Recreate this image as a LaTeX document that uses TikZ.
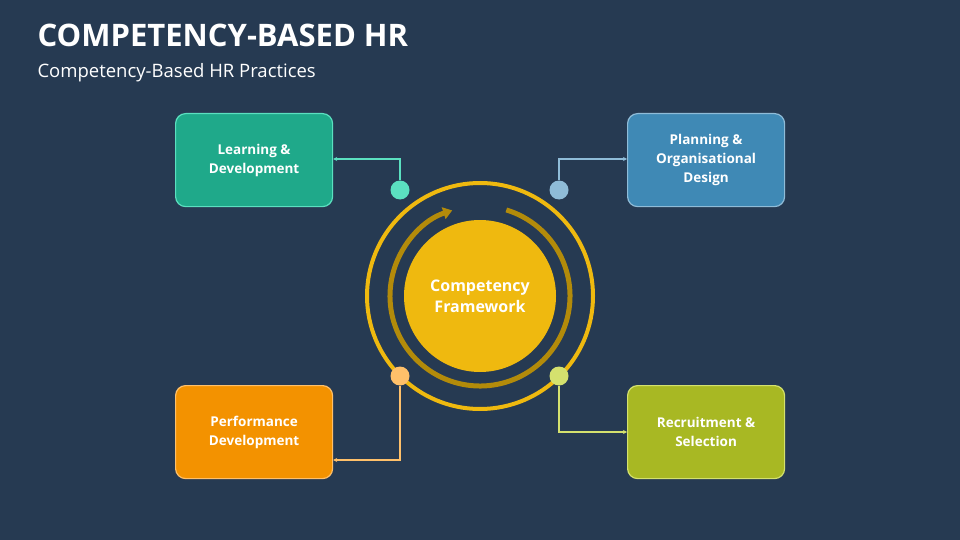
\documentclass[tikz,border=0pt]{standalone}
\usepackage{fontspec}
\setmainfont{Open Sans}
\usetikzlibrary{arrows.meta}
\definecolor{bg}{HTML}{263A52}
\definecolor{gold}{HTML}{EFB90F}
\definecolor{dgold}{HTML}{B38B0A}
\definecolor{tealf}{HTML}{1FA98A}\definecolor{teall}{HTML}{5BE0C0}
\definecolor{bluef}{HTML}{3F89B5}\definecolor{bluel}{HTML}{8FBCD8}
\definecolor{orf}{HTML}{F39200}\definecolor{orl}{HTML}{FFC06A}
\definecolor{grf}{HTML}{A8B823}\definecolor{grl}{HTML}{D4E16E}
\tikzset{x=1pt,y=-1pt,
 box/.style={rounded corners=10pt,minimum width=157pt,minimum height=93pt,line width=1.2pt,text=white,font=\fontsize{13.5}{19}\selectfont\bfseries,align=center,anchor=north west},
 dot/.style={circle,minimum size=19pt,inner sep=0pt},
 conn/.style={line width=1.2pt,-{Stealth[length=4pt,width=4pt]}}}
\begin{document}
\begin{tikzpicture}
\fill[bg] (0,0) rectangle (960,540);
\useasboundingbox (0,0) rectangle (960,540);
\node[anchor=west,text=white,font=\fontsize{31}{34}\selectfont\bfseries] (title) at (34,35) {COMPETENCY-BASED HR};
\node[anchor=west,text=white,font=\fontsize{18.5}{22}\selectfont] (sub) at (34,73) {Competency-Based HR Practices};
\node[box,fill=tealf,draw=teall] (ld) at (175,113) {Learning \&\\Development};
\node[box,fill=bluef,draw=bluel] (pl) at (627,113) {Planning \&\\Organisational\\Design};
\node[box,fill=orf,draw=orl] (pd) at (175,385) {Performance\\Development};
\node[box,fill=grf,draw=grl] (rs) at (627,385) {Recruitment \&\\Selection};
\draw[gold,line width=4pt] (480,296) circle[radius=113];
\draw[dgold,line width=5pt,-{Triangle[length=9pt,width=12pt]}] (480,296) ++(-73:90) arc[start angle=-73,end angle=252,radius=90];
\node[circle,fill=gold,minimum size=152pt,text=white,font=\fontsize{16}{21}\selectfont\bfseries,align=center] (cf) at (480,296) {Competency\\Framework};
\node[dot,fill=teall] (d1) at (400,190) {};
\node[dot,fill=bluel] (d2) at (559,190) {};
\node[dot,fill=orl] (d3) at (400,376) {};
\node[dot,fill=grl] (d4) at (559,376) {};
\draw[conn,teall] (d1) |- (ld.east|-0,159);
\draw[conn,bluel] (d2) |- (pl.west|-0,159);
\draw[conn,orl] (d3) |- (pd.east|-0,460);
\draw[conn,grl] (d4) |- (rs.west|-0,432);
\end{tikzpicture}
\end{document}
